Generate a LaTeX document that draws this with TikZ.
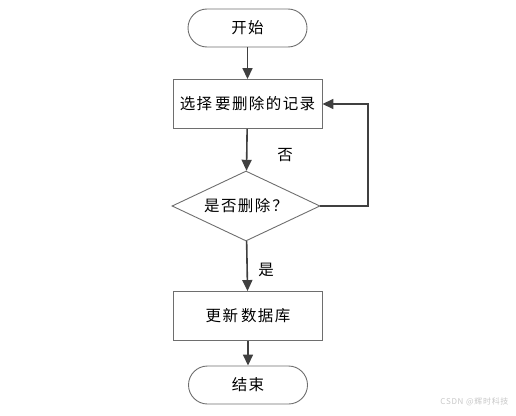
\documentclass[tikz,border=0pt]{standalone}
\usepackage{fontspec}
\setmainfont[LetterSpace=9]{Noto Sans CJK SC}
\usepackage{tikz}
\usetikzlibrary{
  shapes.geometric,
  calc,
  arrows.meta
}
\definecolor{edgegray}{RGB}{110,110,110}
\definecolor{arrowgray}{RGB}{64,64,64}
\tikzset{
  label font/.style = {font=\fontsize{15.5}{18}\selectfont},
  terminal/.style = {draw=edgegray, line width=0.9pt, rounded corners=19pt,
    minimum width=119pt, minimum height=38pt, label font},
  process/.style = {draw=edgegray, line width=0.9pt,
    minimum width=149pt, minimum height=49pt, label font},
  decision/.style = {draw=edgegray, line width=0.9pt, diamond, aspect=2.1,
    minimum width=148pt, minimum height=70pt, inner sep=0pt, label font},
  flow/.style = {draw=arrowgray, line width=1.6pt,
    -{Triangle[length=11pt,width=10pt]}}
}

\begin{document}
\begin{tikzpicture}[x=1pt, y=-1pt]
\useasboundingbox (0,0) rectangle (516,415);

\node[terminal] (start) at (247.5,28) {开始};
\node[process] (choose) at (247.5,104) {选择\hspace{3pt}要删除的记录};
\node[decision] (ask) at (246,206) {是否删除\hspace{2pt}？};
\node[process] (update) at (248,316) {更新\hspace{3pt}数据库};
\node[terminal] (stop) at (248,385) {结束};

\draw[flow] (start) -- (choose);
\draw[flow] (choose) -- (ask);
\draw[flow] (ask) -- (update);
\draw[flow] (update) -- (stop);

\coordinate (loopdown) at (368,206);
\coordinate (loopup) at (368,104);
\draw[flow] (ask.east) -- (loopdown) -- (loopup) -- (choose.east);

\node[label font] (no) at (285,155) {否};
\node[label font] (yes) at (266,270) {是};

% watermark
\node[text=black!22, font=\fontsize{8}{10}\selectfont, anchor=east] (mark) at (512,402) {CSDN @辉时科技};
\end{tikzpicture}
\end{document}
